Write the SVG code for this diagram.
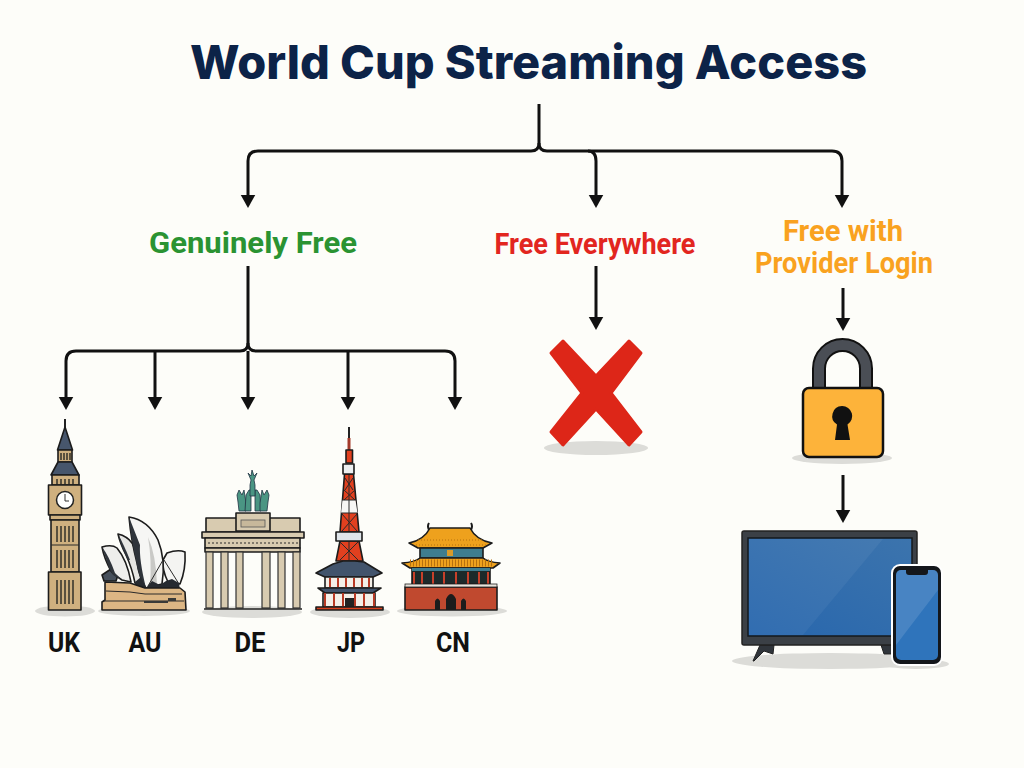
<svg xmlns="http://www.w3.org/2000/svg" width="1024" height="768" viewBox="0 0 1024 768">
<style>
text{font-family:Roboto,"Noto Sans","Liberation Sans",sans-serif;font-weight:700;text-anchor:middle}
.title{font-family:Inter,"Noto Sans","Liberation Sans",sans-serif;font-size:47px;font-weight:800;fill:#0c2348}
.head{font-size:30px}
.cc{font-size:27px;fill:#111}
.sh{fill:#dcdcd8}
.k{stroke:#1c1c1c;stroke-width:1.6;stroke-linejoin:round}
.tan{fill:#cfb07f}
.stone{fill:#d8cbb0}
.thin{stroke:#2a2a2a;stroke-width:1;fill:none}
.slat{stroke:#33302a;stroke-width:1.500;fill:none}
.con{fill:none;stroke:#111;stroke-width:3;stroke-linejoin:round}
.ah{fill:#111}
.rib{fill:none;stroke:#b5700f;stroke-width:1;stroke-dasharray:1 2}
</style>
<defs>
<linearGradient id="scr" x1="1" y1="0" x2="0" y2="1"><stop offset="0" stop-color="#3c74ad"/><stop offset="1" stop-color="#2766ad"/></linearGradient>
<marker id="arr" markerUnits="userSpaceOnUse" markerWidth="16" markerHeight="16" refX="9" refY="7.500" orient="auto"><path class="ah" d="M0 0L13.500 7.500L0 15Z"/></marker>
</defs>
<rect width="1024" height="768" fill="#fdfdf9"/>

<g id="title"><text class="title" x="528.500" y="79" textLength="677" lengthAdjust="spacingAndGlyphs">World Cup Streaming Access</text></g>

<g id="connectors">
<path class="con" d="M539 104V143Q539 151 531 151H258Q248 151 248 161V203.500" marker-end="url(#arr)"/>
<path class="con" d="M539 143Q539 151 547 151H832Q842 151 842 161V203.500" marker-end="url(#arr)"/>
<path class="con" d="M588 151Q596 151 596 161V203.500" marker-end="url(#arr)"/>
<path class="con" d="M248 266V343Q248 351 240 351H76Q66 351 66 361V405.500" marker-end="url(#arr)"/>
<path class="con" d="M248 343Q248 351 256 351H445Q455 351 455 361V405.500" marker-end="url(#arr)"/>
<path class="con" d="M155 351V405.500" marker-end="url(#arr)"/>
<path class="con" d="M248 351V405.500" marker-end="url(#arr)"/>
<path class="con" d="M348 351V405.500" marker-end="url(#arr)"/>
<path class="con" d="M596 266V325.500" marker-end="url(#arr)"/>
<path class="con" d="M843 288V326.500" marker-end="url(#arr)"/>
<path class="con" d="M843 475V518.500" marker-end="url(#arr)"/>
</g>

<g id="genuinely-free"><text class="head" x="253" y="253" fill="#2a9332" textLength="208" lengthAdjust="spacingAndGlyphs">Genuinely Free</text></g>
<g id="free-everywhere"><text class="head" x="595" y="254" fill="#e2261f" textLength="201" lengthAdjust="spacingAndGlyphs">Free Everywhere</text></g>
<g id="free-with-login"><text class="head" x="843" y="241" fill="#f9a21f" textLength="120" lengthAdjust="spacingAndGlyphs">Free with</text><text class="head" x="844" y="273" fill="#f9a21f" textLength="178" lengthAdjust="spacingAndGlyphs">Provider Login</text></g>

<g id="uk">
<ellipse class="sh" cx="65" cy="611" rx="30" ry="5.500"/>
<path d="M65 419V430" stroke="#222" stroke-width="2"/>
<path class="k" fill="#47566c" d="M65 427L72.500 450H57.500Z"/>
<rect class="k tan" x="58" y="450" width="14" height="12"/>
<path class="slat" d="M61 453V460M64 453V460M67 453V460M70 453V460"/>
<path class="k" fill="#47566c" d="M58 462H72L79 475H51Z"/>
<rect class="k tan" x="52" y="475" width="27" height="10"/>
<path class="slat" d="M57 479V485M61 479V485M65 479V485M69 479V485M73 479V485"/>
<rect class="k tan" x="48.500" y="485" width="33" height="30"/>
<circle cx="65" cy="500" r="8.500" fill="#fff" stroke="#222" stroke-width="1.500"/>
<path d="M65 494V501H69" fill="none" stroke="#333" stroke-width="1"/>
<rect class="k tan" x="50" y="515" width="30" height="5"/>
<rect class="k tan" x="51" y="520" width="28" height="52"/>
<path class="thin" d="M51 545H79"/>
<path class="slat" d="M57 526V542M61 526V542M65 526V542M69 526V542M73 526V542M57 550V568M61 550V568M65 550V568M69 550V568M73 550V568"/>
<rect class="k tan" x="48.500" y="572" width="32.500" height="38"/>
<path class="slat" d="M57 580V604M61 580V604M65 580V604M69 580V604M73 580V604"/>
</g>

<g id="au">
<ellipse class="sh" cx="144" cy="611" rx="46" ry="5"/>
<path class="k" fill="#47505c" d="M102 575L111 569L118 575L116 581H104Z"/>
<path class="k" fill="#f4f4f2" d="M167 553Q178 549 185 552Q186 570 180 584L168 582Q162 570 163 560Z"/>
<path class="k" fill="#eeeeec" d="M102 547Q112 544 117 548Q127 560 131 582L122 580Q113 574 111 571Q104 558 102 547Z"/>
<path fill="#2f343b" d="M102 547Q109 556 115 573L122 580L113 575L109 568Z"/>
<path class="k" fill="#e6e6e3" d="M118 534Q127 536 132 543Q142 562 144 587L135 583Q132 568 126 555Q120 543 118 534Z"/>
<path fill="#2f343b" d="M118 534Q124 545 130 560L128 560Q121 547 118 534Z"/>
<path class="k" fill="#f6f6f4" d="M129 517Q148 520 158 540Q166 560 162 584L146 588Q140 580 137 563Q131 540 129 517Z"/>
<path fill="#2f343b" d="M129 517L140 545Q139 560 146 588Q138 577 136 560Q131 540 129 517Z"/>
<path fill="#c9c9c6" d="M148 537Q156 555 157 584L150 586Q152 560 148 537Z"/>
<path class="thin" d="M163 560L148 586M164 560L179 584"/>
<path fill="#262a30" d="M135 582L141 577L146 588L152 581L160 585L166 581L172 579L179 583L180 590H135Z"/>
<path class="k" fill="#dcb684" d="M105 582L130 583L145 588L180 588L185 592L186 610H102V602L105 600Z"/>
<path class="thin" d="M106 591L130 592L145 594H182M104 601H184"/>
<path d="M144 601H176V598H168V603H144Z" fill="#3a3a38"/>
</g>

<g id="de">
<ellipse class="sh" cx="252" cy="612" rx="50" ry="6"/>
<g fill="#4a9583" stroke="#234" stroke-width=".8">
<path d="M239 511L238 502L237 495L239 490L242 495L244 490L246 503L246 511Z"/>
<path d="M245 511L246 495L249 490H251V511Z"/>
<path d="M255 511V490H257L260 495L261 511Z"/>
<path d="M260 511L260 503L262 490L264 495L267 490L269 495L268 502L267 511Z"/>
<path d="M250 496V485L251 480L248 473L251 476L252 470L254 476L257 473L254 480L255 485V496Z"/>
</g>
<g class="k stone"><rect x="206" y="518" width="94" height="14"/><rect x="236" y="513" width="34" height="18"/><rect x="202" y="532" width="102" height="6"/><rect x="205" y="538" width="95" height="10"/><rect x="205" y="548" width="95" height="4"/></g>
<rect x="241" y="520" width="24" height="7" fill="#c7b89b" stroke="#555" stroke-width=".8"/>
<path class="thin" stroke-dasharray="2 2" d="M208 543H298"/>
<g class="stone" stroke="#333" stroke-width="1.200"><rect x="206" y="552" width="7" height="56"/><rect x="221" y="552" width="7" height="56"/><rect x="236" y="552" width="7" height="56"/><rect x="262" y="552" width="8" height="56"/><rect x="278" y="552" width="7" height="56"/><rect x="293" y="552" width="7" height="56"/></g>
<path stroke="#222" stroke-width="1.500" d="M204 609H302"/>
</g>

<g id="jp">
<ellipse class="sh" cx="350" cy="612" rx="40" ry="6"/>
<path d="M349 427V438" stroke="#222" stroke-width="2"/>
<path d="M349 438V450" stroke="#a33a2a" stroke-width="3"/>
<rect class="k" x="346" y="450" width="6.500" height="13" fill="#e2401f"/>
<path class="k" fill="#e2401f" d="M344.500 474H353.500L359 532H340Z"/>
<path fill="#f7f7f5" d="M342.500 500H355.500L357.500 513H341Z"/>
<path class="thin" stroke="#fff" d="M345 478L353 490M353 478L345 490M344 490L355 500M355 490L344 500M342 514L357 531M357 514L342 531"/>
<path class="thin" d="M349 474V532M342 500H356M341 513H357"/>
<rect class="k" x="343" y="464" width="11" height="10" fill="#eceff0"/>
<path class="k" fill="#e2401f" d="M340 541H359L363 561H336Z"/>
<path class="thin" d="M340 542L358 560M358 542L340 560M349 541V561"/>
<rect class="k" x="336" y="532" width="26" height="9" fill="#dfe5ea"/>
<path class="k" fill="#42546c" d="M343 561H355L364 562L382 573L373 577H325L316 573L333 564Z"/>
<rect class="k" x="325" y="577" width="48" height="11" fill="#f3efe8"/>
<path d="M330 578V587M338 578V587M346 578V587M354 578V587M362 578V587M369 578V587" stroke="#b83a25" stroke-width="2"/>
<path class="k" fill="#42546c" d="M318 588H381L373 593H325Z"/>
<rect class="k" x="323" y="593" width="52" height="14" fill="#f3efe8"/>
<path d="M325 593V607M334 593V607M343 593V607M355 593V607M364 593V607M374 593V607" stroke="#b83a25" stroke-width="2"/>
<rect x="345" y="598" width="9" height="9" fill="#222"/>
<rect class="k" x="316" y="607" width="67" height="3" fill="#d9421f"/>
</g>

<g id="cn">
<ellipse class="sh" cx="452" cy="611" rx="55" ry="5.500"/>
<path fill="none" stroke="#1c1c1c" stroke-width="2" d="M429 530Q427 526 429 523M471 530Q473 526 471 523"/>
<path class="k" fill="#eea11d" d="M409 543Q424 540 430 528H470Q476 540 492 543L483 548H418Z"/>
<path class="rib" stroke-width="14" d="M418 540H482"/>
<path class="rib" stroke-width="6" d="M416 545H486"/>
<rect class="k" x="420" y="548" width="63" height="10" fill="#3e7d8f"/>
<rect x="447" y="550" width="6" height="6" fill="#d89b2b"/>
<path class="k" fill="#eea11d" d="M402 563Q415 562 420 558H483Q488 562 500 563L493 568H410Z"/>
<path class="rib" d="M410 563H492" style="stroke-width:7px"/>
<rect class="k" x="412" y="568" width="78" height="16" fill="#1d2a2a"/>
<rect x="412" y="568" width="78" height="3" fill="#3e7d8f"/>
<path d="M414 572V584M422 572V584M433 572V584M444 572V584M456 572V584M468 572V584M479 572V584M488 572V584" stroke="#c8402a" stroke-width="2"/>
<rect class="k" x="405" y="587" width="92" height="23" fill="#c0492f"/>
<rect x="405" y="584" width="92" height="3" fill="#e8e4dc" stroke="#222" stroke-width=".8"/>
<path fill="#1c1c1c" d="M446 610V599Q451 589 456 599V610ZM435 610V601Q437.500 596 440 601V610ZM461 610V601Q463.500 596 466 601V610Z"/>
</g>

<g id="cross">
<ellipse class="sh" cx="596" cy="448" rx="52" ry="7"/>
<path fill="#dd2618" stroke="#dd2618" stroke-width="3" stroke-linejoin="round" d="M563 341L596 376L629 341L641 353L611 393L641 432L629 445L596 409L563 445L551 432L582 393L551 353Z"/>
</g>

<g id="lock">
<ellipse class="sh" cx="842" cy="458" rx="50" ry="6"/>
<path d="M819 388V368.500A23.500 23.500 0 0 1 866 368.500V388" fill="none" stroke="#111" stroke-width="14"/>
<path d="M819 388V368.500A23.500 23.500 0 0 1 866 368.500V388" fill="none" stroke="#4a4e55" stroke-width="10"/>
<rect x="803" y="388" width="80" height="69" rx="6" fill="#fdb33a" stroke="#111" stroke-width="2.500"/>
<path fill="#111" d="M842 406A10 10 0 0 1 847.500 424.500L850 440H835L837 424.500A10 10 0 0 1 842 406Z"/>
</g>

<g id="devices">
<ellipse class="sh" cx="830" cy="661" rx="98" ry="8"/>
<ellipse class="sh" cx="916" cy="664" rx="33" ry="5"/>
<path fill="#30353b" stroke="#222" d="M760 645H774L773 654L764 651L754 661H753Z"/>
<path fill="#30353b" stroke="#222" d="M881 645H892V654H884Z"/>
<rect x="742" y="531" width="175" height="114" rx="2" fill="#3b4046" stroke="#222" stroke-width="1.500"/>
<rect x="748" y="538" width="164" height="98" fill="url(#scr)" stroke="#15181c" stroke-width="1.500"/>
<path fill="#fff" fill-opacity=".05" d="M749 539H883L803 635H749Z"/>
<rect x="891" y="564" width="52" height="102" rx="9" fill="#fff"/>
<rect x="893" y="566" width="48" height="98" rx="7" fill="#14171b"/>
<rect x="896" y="570" width="42" height="90" rx="5" fill="#2f74bb"/>
<path fill="#fff" fill-opacity=".12" d="M896 575Q896 570 901 570H933Q938 570 938 575V590L896 645Z"/>
<path fill="#14171b" d="M906 569H928V572Q928 575 925 575H909Q906 575 906 572Z"/>
</g>

<g id="labels">
<text class="cc" x="64" y="652" textLength="32" lengthAdjust="spacingAndGlyphs">UK</text>
<text class="cc" x="145" y="652" textLength="33" lengthAdjust="spacingAndGlyphs">AU</text>
<text class="cc" x="250" y="652" textLength="31" lengthAdjust="spacingAndGlyphs">DE</text>
<text class="cc" x="351" y="652" textLength="28" lengthAdjust="spacingAndGlyphs">JP</text>
<text class="cc" x="453" y="652" textLength="34" lengthAdjust="spacingAndGlyphs">CN</text>
</g>
</svg>
